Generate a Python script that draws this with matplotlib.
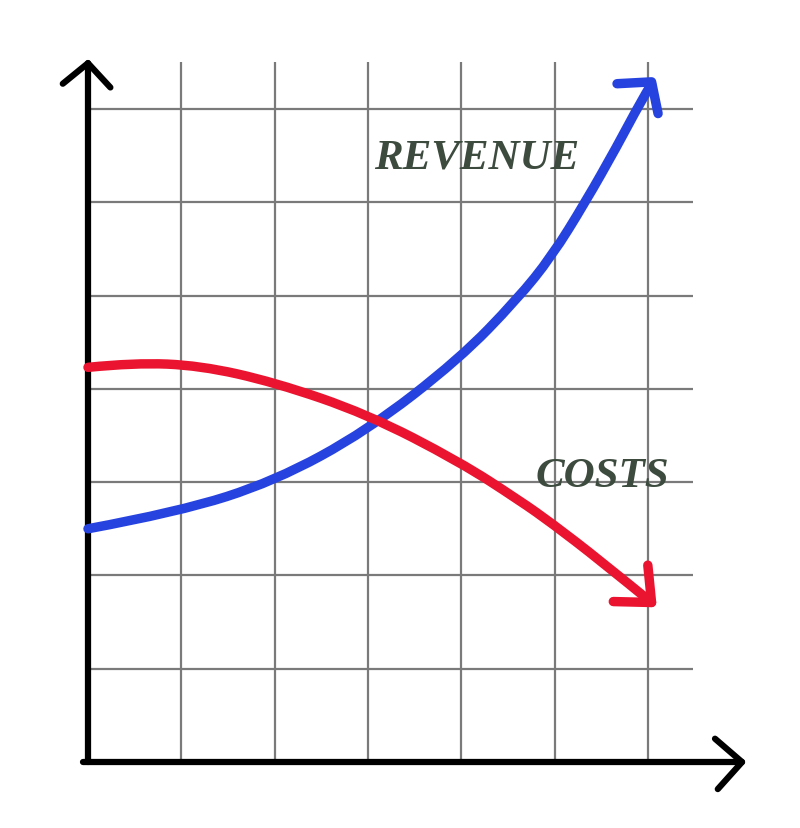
import numpy as np
import matplotlib
matplotlib.use('Agg')
import matplotlib.pyplot as plt
from matplotlib.path import Path
from matplotlib.patches import PathPatch

# Curves, in grid units (one grid square = 1)
revenue_x = [0.0, 0.97, 2.0, 2.99, 3.98, 4.6, 4.97, 5.33, 5.67, 5.92, 6.04]
revenue_y = [2.5, 2.68, 3.01, 3.55, 4.32, 4.96, 5.42, 6.0, 6.6, 7.07, 7.27]
costs_x = [0.0, 0.5, 1.2, 2.0, 2.99, 3.98, 4.63, 4.97, 5.49, 6.04]
costs_y = [4.23, 4.28, 4.25, 4.07, 3.73, 3.22, 2.8, 2.56, 2.16, 1.71]
grid_x = [1, 2, 3, 4, 5, 6]
grid_y = [1, 2, 3, 4, 5, 6, 7]
labels = ['REVENUE', 'COSTS']


def smooth_path(xs, ys):
    # quadratic bezier through midpoints, the read points act as control points
    pts = list(zip(xs, ys))
    verts = [pts[0]]
    codes = [Path.MOVETO]
    for i in range(1, len(pts) - 1):
        mid = ((pts[i][0] + pts[i + 1][0]) / 2, (pts[i][1] + pts[i + 1][1]) / 2)
        if i == len(pts) - 2:
            mid = pts[-1]
        verts += [pts[i], mid]
        codes += [Path.CURVE3, Path.CURVE3]
    return Path(verts, codes)


fig = plt.figure(figsize=(8, 8.29), dpi=100)
ax = fig.add_axes([0, 0, 1, 1])
ax.set_xlim(-0.943, 7.631)
ax.set_ylim(-0.707, 8.178)
ax.axis('off')

# grid
ax.vlines(grid_x, 0, 7.5, color='#7a7a7a', linewidth=1.6, zorder=1)
ax.hlines(grid_y, 0, 6.48, color='#7a7a7a', linewidth=1.6, zorder=1)

# axes with hand-drawn arrow heads
ak = dict(color='black', linewidth=4.5, solid_capstyle='round', zorder=3)
ax.plot([0, 0], [0, 7.49], **ak)
ax.plot([-0.27, 0, 0.24], [7.27, 7.49, 7.23], **ak)
ax.plot([-0.05, 7.01], [0, 0], **ak)
ax.plot([6.72, 7.01, 6.75], [0.25, 0, -0.29], **ak)

# curves
for xs, ys, col in [(revenue_x, revenue_y, '#2643e0'), (costs_x, costs_y, '#eb1430')]:
    ax.add_patch(PathPatch(smooth_path(xs, ys), facecolor='none', edgecolor=col,
                           linewidth=6.8, capstyle='round', joinstyle='round', zorder=4))
lk = dict(linewidth=6.8, solid_capstyle='round', solid_joinstyle='round', zorder=4)
ax.plot([5.67, 6.04, 6.11], [7.27, 7.29, 6.95], color='#2643e0', **lk)
ax.plot([5.63, 6.04, 6.0], [1.72, 1.71, 2.11], color='#eb1430', **lk)

tk = dict(family='Liberation Serif', style='italic', weight='bold', color='#3d4b3f',
          ha='center', va='center', zorder=5)
ax.text(4.17, 6.48, labels[0], fontsize=31, **tk)
ax.text(5.51, 3.07, labels[1], fontsize=31, **tk)

fig.savefig('out.png', dpi=100, facecolor='white')
